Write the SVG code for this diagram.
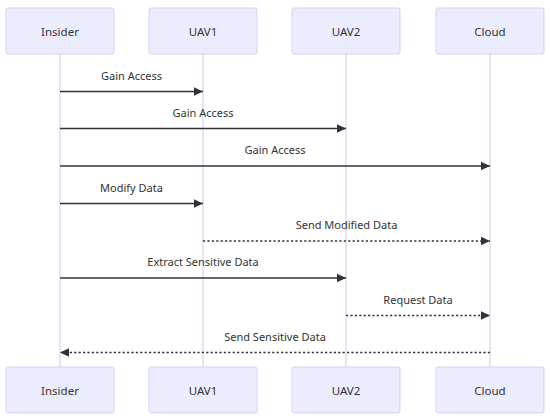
<svg xmlns="http://www.w3.org/2000/svg" width="550" height="419" viewBox="0 0 550 419">
<style>
.actor{fill:#ECECFF;stroke:#D9D0F5;stroke-width:1}
.life{stroke:#D0C6F2;stroke-width:1}
.at{font-family:"Noto Sans","DejaVu Sans",sans-serif;font-size:11.5px;fill:#333;text-anchor:middle;dominant-baseline:central}
.ml{font-family:"Noto Sans","DejaVu Sans",sans-serif;font-size:11px;fill:#333;text-anchor:middle}
.msg{stroke:#333;stroke-width:1.4;fill:none}
.dot{stroke-dasharray:2.2,2.2}
</style>
<defs>
<marker id="ah" markerWidth="10" markerHeight="10" refX="9" refY="5" orient="auto" markerUnits="userSpaceOnUse" viewBox="0 0 10 10">
<path d="M0,0.8 L9,5 L0,9.2 z" fill="#333"/>
</marker>
</defs>
<g id="lifelines">
<line class="life" x1="60" y1="54" x2="60" y2="367"/>
<line class="life" x1="203" y1="54" x2="203" y2="367"/>
<line class="life" x1="346" y1="54" x2="346" y2="367"/>
<line class="life" x1="490" y1="54" x2="490" y2="367"/>
</g>
<g id="Insider">
<rect class="actor" x="6" y="8" width="108" height="46" rx="2"/>
<text class="at" x="60" y="31">Insider</text>
<rect class="actor" x="6" y="367" width="108" height="46" rx="2"/>
<text class="at" x="60" y="390">Insider</text>
</g>
<g id="UAV1">
<rect class="actor" x="149" y="8" width="108" height="46" rx="2"/>
<text class="at" x="203" y="31">UAV1</text>
<rect class="actor" x="149" y="367" width="108" height="46" rx="2"/>
<text class="at" x="203" y="390">UAV1</text>
</g>
<g id="UAV2">
<rect class="actor" x="292" y="8" width="108" height="46" rx="2"/>
<text class="at" x="346" y="31">UAV2</text>
<rect class="actor" x="292" y="367" width="108" height="46" rx="2"/>
<text class="at" x="346" y="390">UAV2</text>
</g>
<g id="Cloud">
<rect class="actor" x="436" y="8" width="108" height="46" rx="2"/>
<text class="at" x="490" y="31">Cloud</text>
<rect class="actor" x="436" y="367" width="108" height="46" rx="2"/>
<text class="at" x="490" y="390">Cloud</text>
</g>
<g id="connectors">
<line class="msg" x1="60" y1="91.5" x2="203" y2="91.5" marker-end="url(#ah)"/>
<text class="ml" x="131.5" y="80">Gain Access</text>
<line class="msg" x1="60" y1="128.5" x2="346" y2="128.5" marker-end="url(#ah)"/>
<text class="ml" x="203" y="117">Gain Access</text>
<line class="msg" x1="60" y1="166" x2="490" y2="166" marker-end="url(#ah)"/>
<text class="ml" x="275" y="154">Gain Access</text>
<line class="msg" x1="60" y1="203.5" x2="203" y2="203.5" marker-end="url(#ah)"/>
<text class="ml" x="131.5" y="192">Modify Data</text>
<line class="msg dot" x1="203" y1="241" x2="490" y2="241" marker-end="url(#ah)"/>
<text class="ml" x="346.5" y="229">Send Modified Data</text>
<line class="msg" x1="60" y1="278" x2="346" y2="278" marker-end="url(#ah)"/>
<text class="ml" x="203" y="266">Extract Sensitive Data</text>
<line class="msg dot" x1="346" y1="315.5" x2="490" y2="315.5" marker-end="url(#ah)"/>
<text class="ml" x="418" y="304">Request Data</text>
<line class="msg dot" x1="490" y1="352.5" x2="60" y2="352.5" marker-end="url(#ah)"/>
<text class="ml" x="275" y="341">Send Sensitive Data</text>
</g>
</svg>
